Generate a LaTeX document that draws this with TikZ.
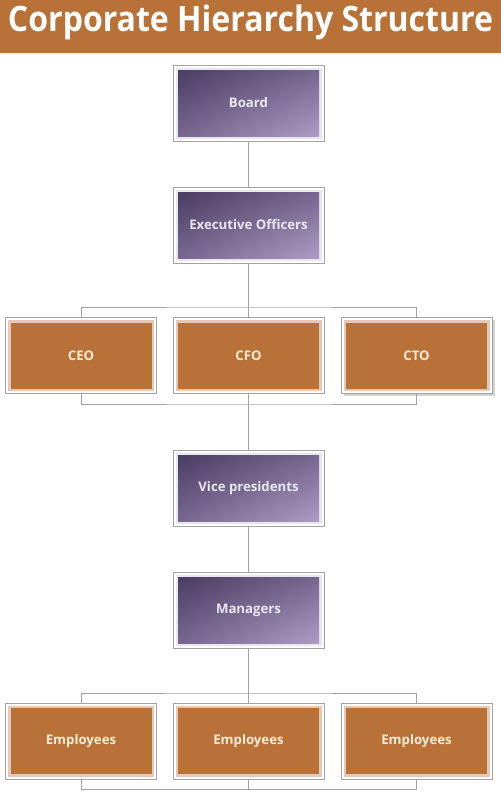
\documentclass[tikz,border=0pt]{standalone}
\usepackage{fontspec}
\setmainfont{Open Sans}
\usetikzlibrary{positioning, shadows, shadings}
\definecolor{Copper}{HTML}{B87238}
\definecolor{CopperEdge}{HTML}{E4C9B8}
\definecolor{Cream}{HTML}{FAEBD6}
\definecolor{PlumDark}{HTML}{4A3D62}
\definecolor{PlumMid}{HTML}{77678F}
\definecolor{PlumLight}{HTML}{AC9CC4}
\definecolor{PlumEdge}{HTML}{EAE6F0}
\definecolor{LineGrey}{HTML}{A3A3A3}

\begin{document}
\begin{tikzpicture}[x=1pt, y=-1pt,
    basebox/.style={rectangle, draw=LineGrey, line width=0.9pt, fill=white,
        minimum width=151pt, minimum height=76pt, inner sep=0pt,
        font=\fontsize{13.2}{15}\selectfont\bfseries},
    orangebox/.style={basebox, text=Cream,
        path picture={
            \fill[CopperEdge] ([shift={(2.5pt,-2.5pt)}]path picture bounding box.north west)
                rectangle ([shift={(-2.5pt,2.5pt)}]path picture bounding box.south east);
            \fill[Copper] ([shift={(5pt,-5pt)}]path picture bounding box.north west)
                rectangle ([shift={(-5pt,5pt)}]path picture bounding box.south east);
        }},
    purplebox/.style={basebox, text=PlumEdge,
        path picture={
            \fill[PlumEdge] ([shift={(2.5pt,-2.5pt)}]path picture bounding box.north west)
                rectangle ([shift={(-2.5pt,2.5pt)}]path picture bounding box.south east);
            \shade[upper left=PlumDark, upper right=PlumMid,
                   lower left=PlumMid, lower right=PlumLight]
                ([shift={(5pt,-5pt)}]path picture bounding box.north west)
                rectangle ([shift={(-5pt,5pt)}]path picture bounding box.south east);
        }},
    link/.style={LineGrey, line width=0.9pt}
]
\useasboundingbox (0,0) rectangle (501,796);

% =============================================
% Title band
% =============================================
\fill[Copper] (0,0) rectangle (501,53);
\node[anchor=base, text=white, font=\fontsize{35}{38}\selectfont\bfseries] (title) at (250.5,31)
    {\scalebox{0.915}[1]{Corporate Hierarchy Structure}};

% =============================================
% Boxes
% =============================================
\node[purplebox] (board) at (248.5,103) {Board};
\node[purplebox] (exec)  at (248.5,225) {Executive Officers};

\node[orangebox] (ceo) at (81,355.5) {CEO};
\node[orangebox] (cfo) at (248.5,355.5) {CFO};
\node[orangebox, drop shadow={shadow xshift=2.5pt, shadow yshift=-2.5pt, opacity=0.35}]
    (cto) at (416.5,355.5) {CTO};

\node[purplebox] (vp)  at (248.5,488) {Vice presidents};
\node[purplebox] (mgr) at (248.5,610) {Managers};

\node[orangebox] (emp1) at (81,741) {Employees};
\node[orangebox] (emp2) at (248.5,741) {Employees};
\node[orangebox] (emp3) at (416.5,741) {Employees};

% =============================================
% Connectors
% =============================================
\coordinate (chiefstop) at (248.5,307);
\coordinate (chiefsbot) at (248.5,404);
\coordinate (staffstop) at (248.5,693);
\coordinate (staffsbot) at (248.5,789);

\draw[link] (board.south) -- (exec.north);
\draw[link] (exec.south) -- (cfo.north);
\draw[link] (ceo.north) |- (chiefstop) -| (cto.north);
\draw[link] (ceo.south) |- (chiefsbot) -| (cto.south);
\draw[link] (cfo.south) -- (vp.north);
\draw[link] (vp.south) -- (mgr.north);
\draw[link] (mgr.south) -- (emp2.north);
\draw[link] (emp1.north) |- (staffstop) -| (emp3.north);
\draw[link] (emp1.south) |- (staffsbot) -| (emp3.south);
\draw[link] (emp2.south) -- (staffsbot);

\end{tikzpicture}
\end{document}
